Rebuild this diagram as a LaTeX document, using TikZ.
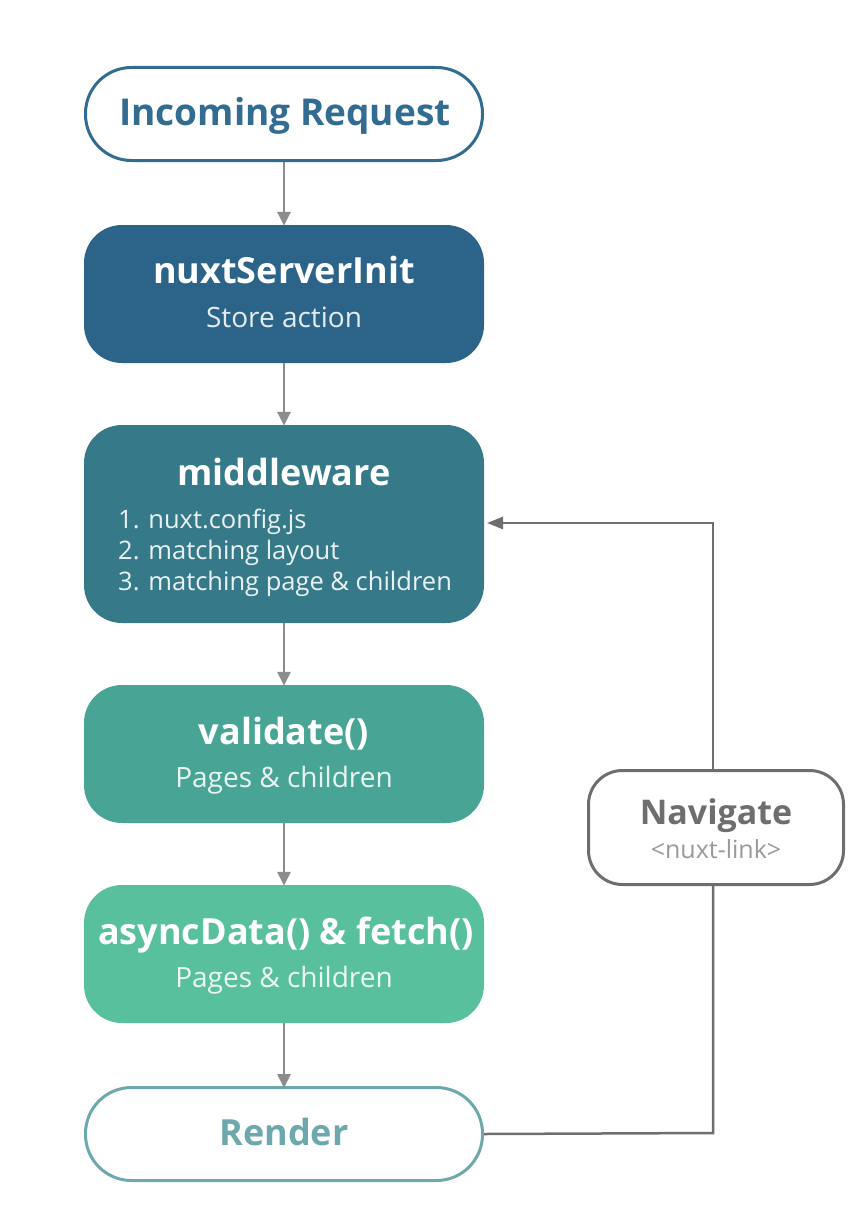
\documentclass[tikz,border=0pt]{standalone}
\usepackage{fontspec}
\setmainfont{Open Sans}
\usetikzlibrary{arrows.meta}
\definecolor{cIn}{HTML}{336C91}
\definecolor{cInit}{HTML}{2C6388}
\definecolor{cMid}{HTML}{367A8A}
\definecolor{cVal}{HTML}{48A595}
\definecolor{cAsync}{HTML}{58C09D}
\definecolor{cRender}{HTML}{6CA8AC}
\definecolor{cNav}{HTML}{6E6E6E}
\definecolor{cNavSub}{HTML}{9A9A9A}
\definecolor{cArrow}{HTML}{8C8C8C}
\definecolor{cLoop}{HTML}{6E6E6E}
\tikzset{
  box/.style={minimum width=400pt, inner sep=0pt, rounded corners=38pt},
  pill/.style={minimum width=397pt, minimum height=93pt, inner sep=0pt, rounded corners=46pt, line width=3pt, draw, fill=white},
  title/.style={font=\fontsize{36}{40}\selectfont\bfseries, text=white, inner sep=0pt, anchor=base},
  sub/.style={font=\fontsize{28}{32}\selectfont, text=white, text opacity=0.88, inner sep=0pt, anchor=base},
  item/.style={font=\fontsize{25.5}{29}\selectfont, text=white, text opacity=0.9, inner sep=0pt, anchor=base west},
  flow/.style={draw=cArrow, line width=2.5pt, -{Triangle[length=14pt,width=13pt]}},
  loop/.style={draw=cLoop, line width=2.5pt}
}
\begin{document}
\begin{tikzpicture}[x=1pt,y=-1pt]
\useasboundingbox (0,0) rectangle (866,1220);
% boxes
\node[pill, draw=cIn] (inc) at (284,114) {};
\node[box, fill=cInit, minimum height=138pt] (init) at (284,294) {};
\node[box, fill=cMid, minimum height=198pt] (mid) at (284,524) {};
\node[box, fill=cVal, minimum height=138pt] (val) at (284,754) {};
\node[box, fill=cAsync, minimum height=138pt] (async) at (284,954) {};
\node[pill, draw=cRender] (ren) at (284,1134) {};
\node[minimum width=255pt, minimum height=114pt, inner sep=0pt, rounded corners=34pt, line width=3pt, draw=cNav, fill=white] (nav) at (716,827.5) {};
% texts
\node[font=\fontsize{37}{40}\selectfont\bfseries, text=cIn, inner sep=0pt, anchor=base] (tinc) at (285,126) {Incoming Request};
\node[title] (tinit) at (284,283) {nuxtServerInit};
\node[sub] (sinit) at (284,327) {Store action};
\node[title] (tmid) at (284,485) {middleware};
\node[item] (m1) at (118,528) {1. nuxt.config.js};
\node[item] (m2) at (118,559) {2. matching layout};
\node[item] (m3) at (118,590) {3. matching page \& children};
\node[title] (tval) at (284,744) {validate()};
\node[sub] (sval) at (284,787) {Pages \& children};
\node[title] (tasync) at (286,944) {asyncData() \& fetch()};
\node[sub] (sasync) at (284,987) {Pages \& children};
\node[title, text=cRender] (tren) at (284,1145) {Render};
\node[font=\fontsize{34}{38}\selectfont\bfseries, text=cNav, inner sep=0pt, anchor=base] (tnav) at (716,824) {Navigate};
\node[font=\fontsize{25}{28}\selectfont, text=cNavSub, inner sep=0pt, anchor=base] (snav) at (716,858) {<nuxt-link>};
% flow arrows
\draw[flow] (inc.south) -- ([yshift=-1pt]init.north);
\draw[flow] (init.south) -- ([yshift=-1pt]mid.north);
\draw[flow] (mid.south) -- ([yshift=-1pt]val.north);
\draw[flow] (val.south) -- ([yshift=-1pt]async.north);
\draw[flow] (async.south) -- ([yshift=-2pt]ren.north);
% loop
\coordinate (c1) at (713,1133);
\coordinate (c2) at (713,523);
\coordinate (c3) at (487,523);
\draw[loop] (ren.east) -- (c1) -- (nav.south -| c1);
\draw[loop, -{Triangle[length=16pt,width=12pt]}] (nav.north -| c2) -- (c2) -- (c3);
\end{tikzpicture}
\end{document}
